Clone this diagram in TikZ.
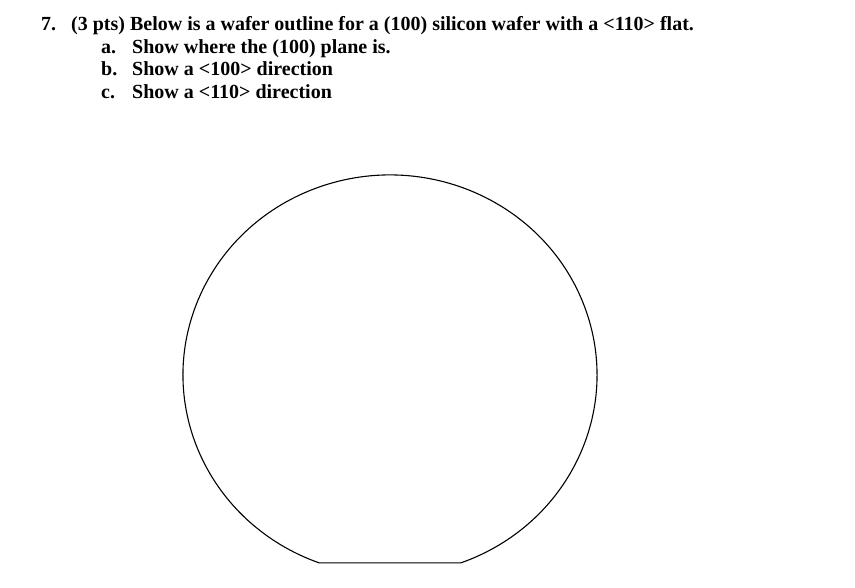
\documentclass[tikz,border=0pt]{standalone}
\usepackage{fontspec}
\setmainfont{Liberation Serif}
\usepackage{tikz}
\usetikzlibrary{positioning,calc}

\begin{document}
\begin{tikzpicture}[
    x=1pt, y=1pt,
    question/.style={anchor=base west, inner sep=0pt, font=\fontsize{20}{23}\selectfont\bfseries},
    wafer/.style={draw=black, line width=1.1pt}
]
\useasboundingbox (0,0) rectangle (855,588);

% Question text
\node[question] (num) at (41,557) {7.};
\node[question] (title) at (71,557) {(3 pts) Below is a wafer outline for a (100) silicon wafer with a <110> flat.};
\node[question] (itema) at (101,534.5) {a.};
\node[question] (texta) at (132,534.5) {Show where the (100) plane is.};
\node[question] (itemb) at (101,512) {b.};
\node[question] (textb) at (132,512) {Show a <100> direction};
\node[question] (itemc) at (101,489.3) {c.};
\node[question] (textc) at (132,489.3) {Show a <110> direction};

% Wafer outline with flat
\coordinate (center) at (390,213);
\coordinate (flatR) at (460.8,25.1);
\coordinate (flatL) at (319.2,25.1);
\draw[wafer] (flatR) arc[start angle=-70, end angle=250, x radius=207, y radius=200] -- (flatL) -- cycle;

\end{tikzpicture}
\end{document}
